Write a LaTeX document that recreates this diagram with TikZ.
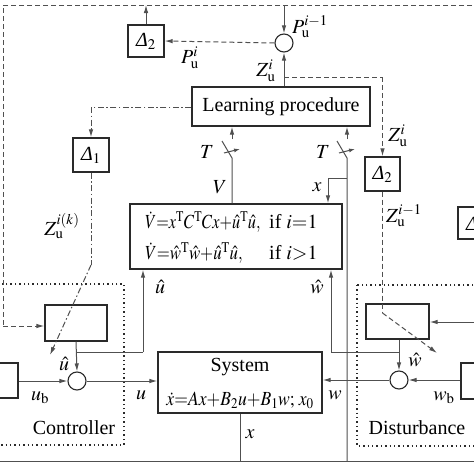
\documentclass[tikz,border=0pt]{standalone}
\usepackage{mathptmx}
\usepackage{fontspec}
\setmainfont{Liberation Serif}
\usetikzlibrary{arrows.meta}
\definecolor{ln}{HTML}{505050}
\definecolor{bx}{HTML}{2a2a2a}
\tikzset{
  box/.style={draw=bx, line width=1.3pt, inner sep=0pt, fill=white},
  sumj/.style={circle, draw=bx, line width=1.1pt, minimum size=18pt, inner sep=0pt, fill=white},
  lnk/.style={draw=ln, line width=1pt},
  arr/.style={lnk, -{Latex[length=8pt,width=4.5pt]}},
  dsh/.style={lnk, dash pattern=on 5pt off 3pt},
  dashdot/.style={lnk, dash pattern=on 6pt off 2.5pt on 1.5pt off 2.5pt},
  dotbox/.style={draw=bx, line width=1.5pt, dash pattern=on 1.4pt off 3pt},
  lbl/.style={inner sep=0pt, text=black}
}
\begin{document}
\begin{tikzpicture}[x=1pt,y=-1pt,font=\fontsize{20}{24}\selectfont]
\clip (0,0) rectangle (474,474);
\fill[white] (0,0) rectangle (474,474);

% dotted group boxes
\draw[dotbox] (-5,284) rectangle (124,445);
\draw[dotbox] (357,285) rectangle (485,446);

% blocks
\node[box, minimum width=36pt, minimum height=32pt] (d2top) at (146,41) {{\itshape Δ}$_2$};
\node[sumj] (sumtop) at (284,43) {};
\node[box, minimum width=178pt, minimum height=39pt] (lp) at (281,106.5) {Learning procedure};
\node[box, minimum width=36pt, minimum height=34pt] (d1) at (91,155) {{\itshape Δ}$_1$};
\node[box, minimum width=35pt, minimum height=34pt] (d2r) at (382.5,174) {{\itshape Δ}$_2$};
\node[box, minimum width=40pt, minimum height=32pt] (dpart) at (478,223) {};
\node[lbl] (dpartl) at (472,224) {{\itshape Δ}};
\node[box, minimum width=212pt, minimum height=65pt] (vbox) at (236,236.5) {};
\node[lbl, anchor=west] (eq1) at (145,222) {\scalebox{0.81}[1]{$\dot V{=}x^{\mathrm{T}}C^{\mathrm{T}}Cx{+}\hat u^{\mathrm{T}}\hat u,$}};
\node[lbl, anchor=west] (eq1b) at (269,222) {if $i{=}1$};
\node[lbl, anchor=west] (eq2) at (145,253) {\scalebox{0.84}[1]{$\dot V{=}\hat w^{\mathrm{T}}\hat w{+}\hat u^{\mathrm{T}}\hat u,$}};
\node[lbl, anchor=west] (eq2b) at (269,253) {if $i{>}1$};

\node[box, minimum width=62pt, minimum height=36pt] (cbox) at (76,323) {};
\node[box, minimum width=40pt, minimum height=35pt] (lbox) at (-2,380.5) {};
\node[sumj] (sumL) at (77,381) {};
\node[box, minimum width=164pt, minimum height=61pt] (sys) at (240,382.5) {};
\node[lbl] (syst) at (240,367) {System};
\node[lbl] (syseq) at (240,400) {\scalebox{0.88}[1]{$\dot x{=}Ax{+}B_2u{+}B_1w;\,x_0$}};
\node[box, minimum width=63pt, minimum height=35pt] (dbox) at (397.5,321.5) {};
\node[sumj] (sumR) at (399,380) {};
\node[box, minimum width=40pt, minimum height=36pt] (rbox) at (481,381) {};

% coordinates
\coordinate (tl) at (3,5);
\coordinate (tr) at (480,5);
\coordinate (lc) at (3,326);
\coordinate (zb) at (284,77);
\coordinate (zr) at (382.5,77);
\coordinate (ddL) at (91,107);
\coordinate (k1) at (91,265);
\coordinate (k1e) at (50,355);
\coordinate (k2) at (382.5,313);
\coordinate (k2e) at (437,353);
\coordinate (swLb) at (232,158);
\coordinate (swLt) at (232,139);
\coordinate (swRb) at (347,158);
\coordinate (swRt) at (347,139);
\coordinate (xb) at (347,178);
\coordinate (xbl) at (328,178);
\coordinate (bl) at (-5,461);
\coordinate (br) at (480,461);
\coordinate (sysb) at (240,461);
\coordinate (swRbot) at (347,461);
\coordinate (ub) at (76.5,352);
\coordinate (ubr) at (143,352);
\coordinate (wb) at (399,352);
\coordinate (wbl) at (331,352);
\coordinate (rin) at (480,322);

% top dashed loop
\draw[dsh] (tr) -- (tl) -- (lc);
\draw[arr, dash pattern=on 5pt off 3pt] (lc) -- (cbox.west |- lc);
\draw[arr] (d2top.north) -- (d2top.north |- tl);
\draw[arr] (sumtop.north |- tl) -- (sumtop.north);
\draw[arr, dash pattern=on 5pt off 3pt] (sumtop.west) -- (d2top.east);
\draw[arr] (lp.north -| sumtop) -- (sumtop.south);
\draw[dsh] (zb) -- (zr);
\draw[arr, dash pattern=on 5pt off 3pt] (zr) -- (d2r.north);
\draw[dsh] (d2r.south) -- (k2);
\draw[arr, dash pattern=on 5pt off 3pt] (k2) -- (k2e);

% dash-dot to Delta1
\draw[dashdot] (lp.west |- ddL) -- (ddL);
\draw[arr, dash pattern=on 6pt off 2.5pt on 1.5pt off 2.5pt] (ddL) -- (d1.north);
\draw[dashdot] (d1.south) -- (k1);
\draw[arr, dash pattern=on 6pt off 2.5pt on 1.5pt off 2.5pt] (k1) -- (k1e);

% left switch
\draw[lnk] (vbox.north -| swLb) -- (swLb) -- ++(-10,-17);
\draw[lnk, -{Latex[length=6pt,width=4pt]}] ([shift={(-8,-5)}]swLb) -- ++(16,-4);
\draw[arr] (swLt) -- (lp.south -| swLt);
% right switch
\draw[lnk] (swRbot) -- (swRb) -- ++(-10,-17);
\draw[lnk, -{Latex[length=6pt,width=4pt]}] ([shift={(-8,-5)}]swRb) -- ++(16,-4);
\draw[arr] (swRt) -- (lp.south -| swRt);
\draw[lnk] (xb) -- (xbl);
\draw[arr] (xbl) -- (vbox.north -| xbl);

% bottom feedback line
\draw[lnk] (bl) -- (br);
\draw[lnk] (sys.south) -- (sysb);

% controller side
\draw[arr] (cbox.south) -- (sumL.north);
\draw[lnk] (ub) -- (ubr);
\draw[arr] (ubr) -- (vbox.south -| ubr);
\draw[arr] (lbox.east |- sumL) -- (sumL.west);
\draw[arr] (sumL.east) -- (sys.west |- sumL);

% disturbance side
\draw[arr] (dbox.south -| sumR) -- (sumR.north);
\draw[lnk] (wb) -- (wbl);
\draw[arr] (wbl) -- (vbox.south -| wbl);
\draw[arr] (rbox.west |- sumR) -- (sumR.east);
\draw[arr] (sumR.west) -- (sys.east |- sumR);
\draw[arr] (rin) -- (dbox.east |- rin);

% labels
\node[lbl] (lP1) at (310,27) {$P_{\mathrm{u}}^{i-1}$};
\node[lbl] (lP0) at (190,58) {$P_{\mathrm{u}}^{i}$};
\node[lbl] (lZ1) at (266,71) {$Z_{\mathrm{u}}^{i}$};
\node[lbl] (lZ2) at (398,136) {$Z_{\mathrm{u}}^{i}$};
\node[lbl] (lZk) at (62,226) {$Z_{\mathrm{u}}^{i(k)}$};
\node[lbl] (lZm) at (404,216) {$Z_{\mathrm{u}}^{i-1}$};
\node[lbl] (lT1) at (207,152) {$T$};
\node[lbl] (lT2) at (323,152) {$T$};
\node[lbl] (lV) at (220,187) {$V$};
\node[lbl] (lx1) at (317,187) {$x$};
\node[lbl] (lu1) at (160,287) {$\hat u$};
\node[lbl] (lw1) at (317,287) {$\hat w$};
\node[lbl] (lu2) at (64,364) {$\hat u$};
\node[lbl] (lw2) at (415,360) {$\hat w$};
\node[lbl] (lub) at (40,398) {$u_{\mathrm{b}}$};
\node[lbl] (lu) at (141,395) {$u$};
\node[lbl] (lw) at (335,395) {$w$};
\node[lbl] (lwb) at (444,398) {$w_{\mathrm{b}}$};
\node[lbl] (lx2) at (250,434) {$x$};
\node[lbl] (lcon) at (74,428) {Controller};
\node[lbl] (ldis) at (417,428) {Disturbance};
\end{tikzpicture}
\end{document}
